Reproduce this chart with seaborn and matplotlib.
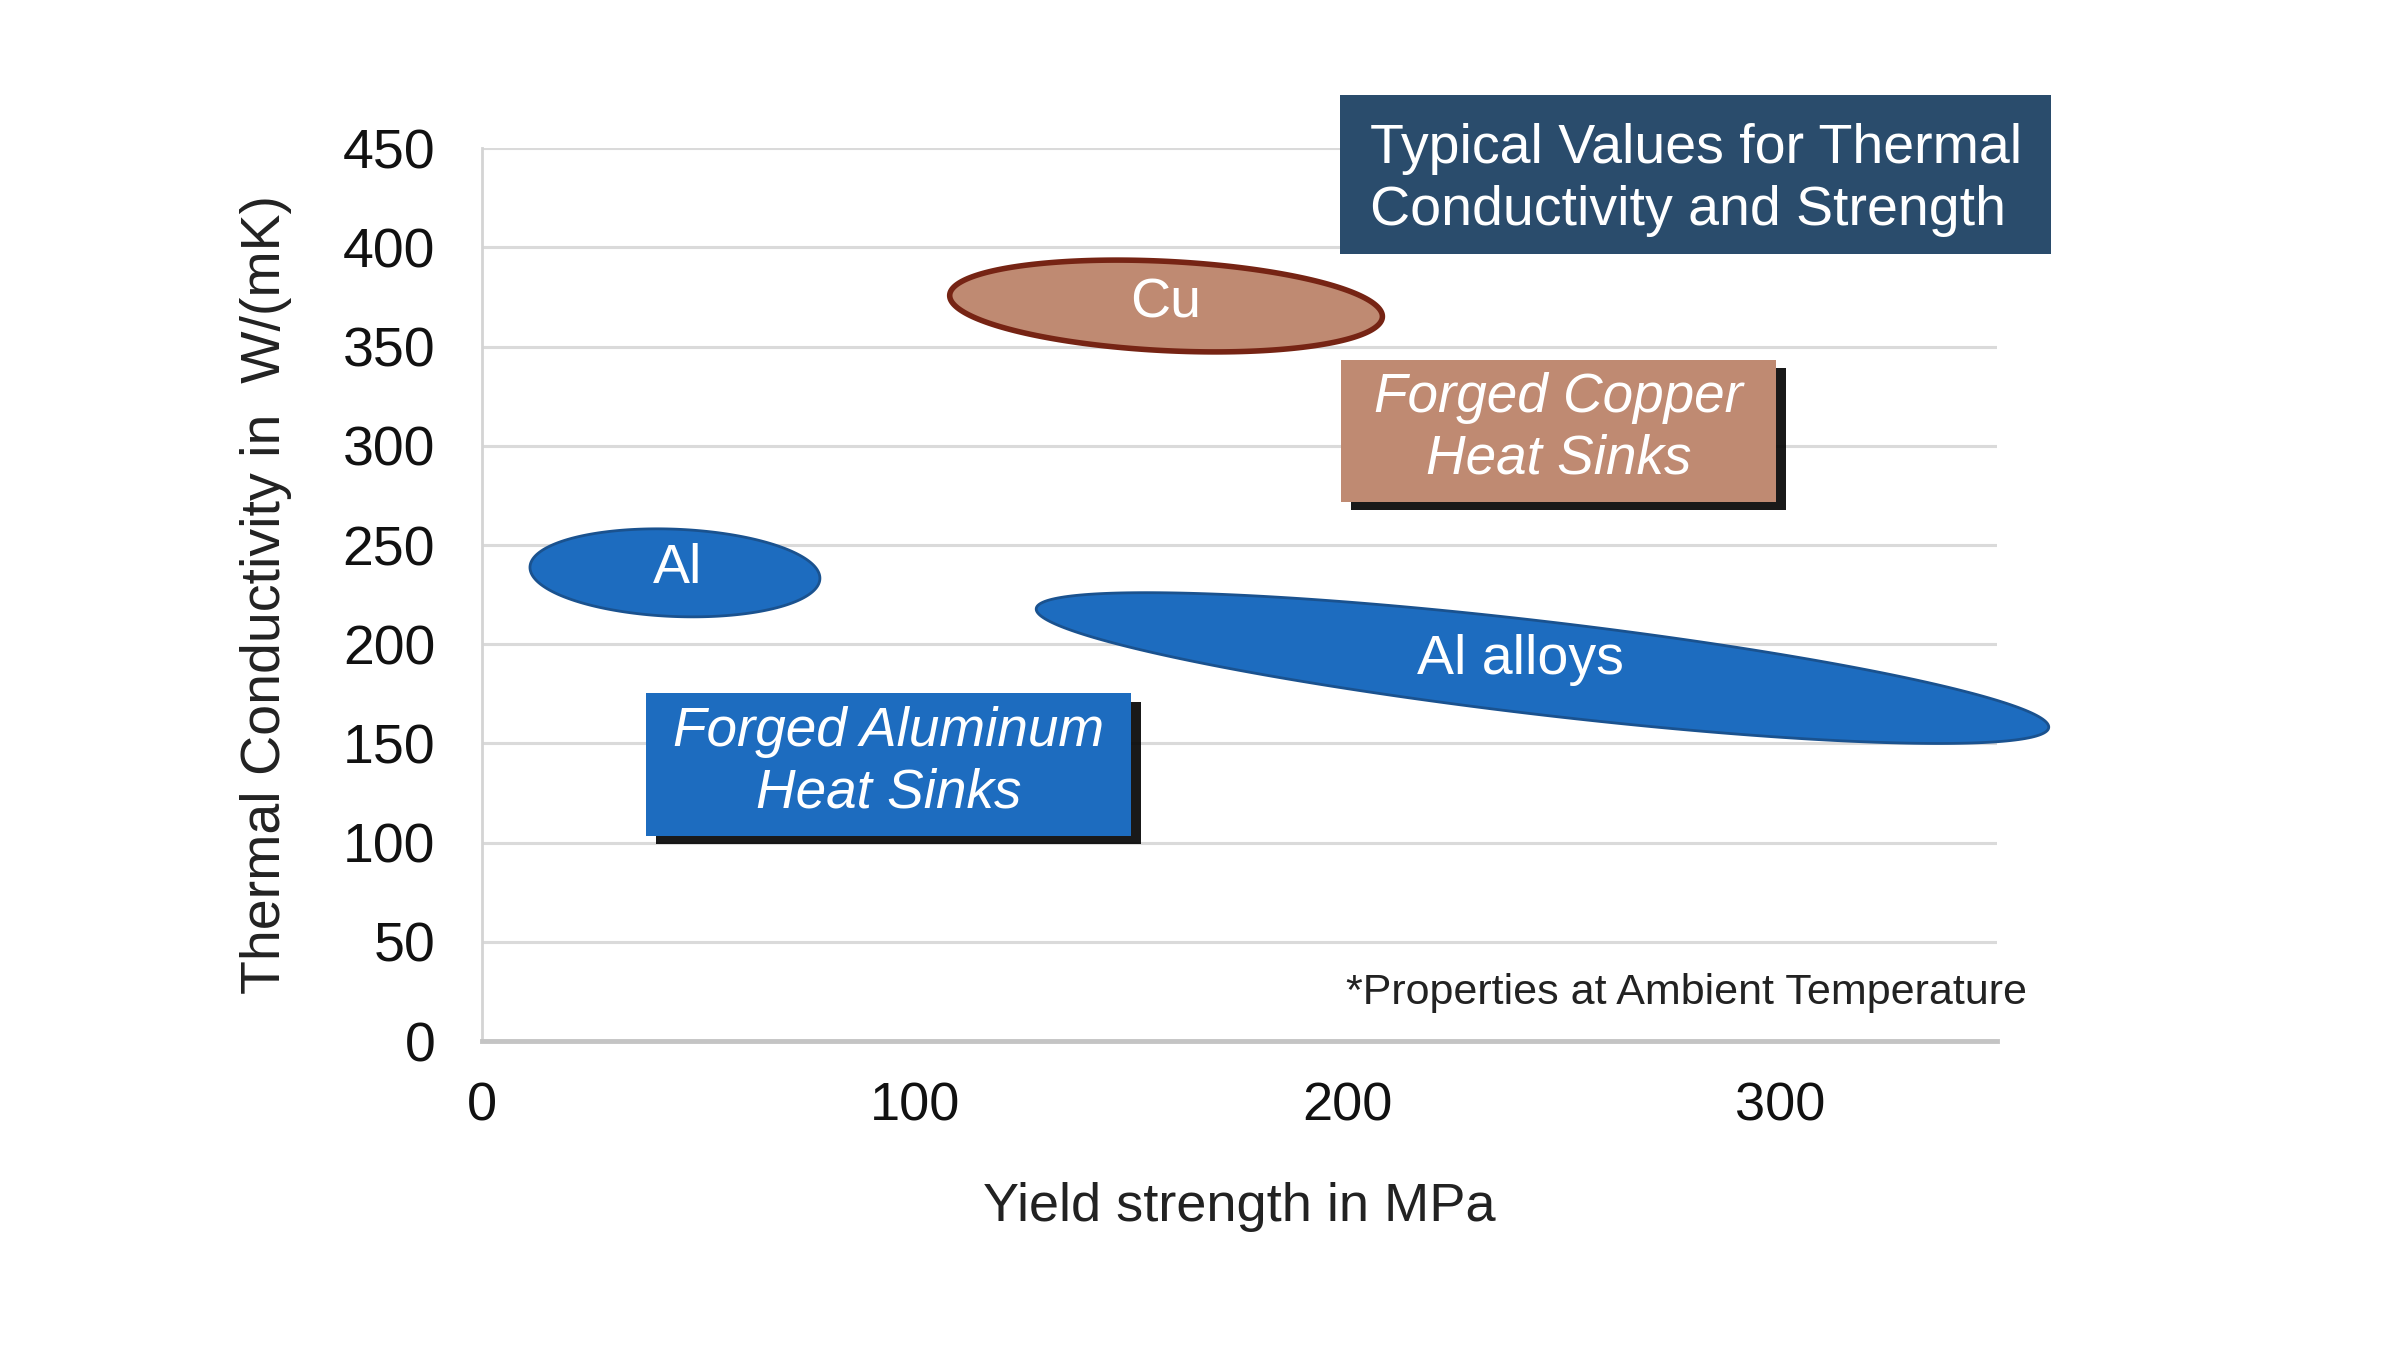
import numpy as np
import pandas as pd
import matplotlib
matplotlib.use("Agg")
import matplotlib.pyplot as plt
import matplotlib.patheffects as pe
from matplotlib.patches import Rectangle, Polygon
import seaborn as sns

# ---------------- data ----------------
materials = ["Cu", "Al", "Al alloys"]
strength_low = [108, 11, 128]          # MPa, left end of range
strength_high = [208, 78, 362]         # MPa, right end of range
conductivity_at_low = [376, 239, 218]  # W/(mK) at left end
conductivity_at_high = [365, 233, 158] # W/(mK) at right end
band_width = [45, 44, 47]              # spread of conductivity (visual thickness)
label_x = [158, 45, 240]
label_y = [372, 238, 192]

x_ticks = [0, 100, 200, 300]
y_ticks = [0, 50, 100, 150, 200, 250, 300, 350, 400, 450]

heat_sinks = ["Forged Copper\nHeat Sinks", "Forged Aluminum\nHeat Sinks"]
hs_x0 = [198.5, 37.8]
hs_x1 = [299.0, 150.0]
hs_y0 = [271.7, 103.4]
hs_y1 = [343.5, 175.2]

title_text = "Typical Values for Thermal\nConductivity and Strength"
note_text = "*Properties at Ambient Temperature"

# colours
blue = "#1d6cbf"
blue_edge = "#1a528f"
copper = "#bf8a72"
copper_edge = "#762414"
navy = "#2a4c6c"

# ---------------- style ----------------
sns.set_theme(style="white")
plt.rcParams["font.family"] = ["Liberation Sans", "DejaVu Sans"]

fig = plt.figure(figsize=(24, 13.48), dpi=100)
ax = fig.add_axes([0.201, 0.2277, 0.631, 0.6623])
ax.set_xlim(0, 350)
ax.set_ylim(0, 450)
ax.set_xticks(x_ticks)
ax.set_yticks(y_ticks)
ax.yaxis.grid(True, color="#dadada", linewidth=2.2)
ax.xaxis.grid(False)
ax.set_axisbelow(True)
sns.despine(ax=ax, top=True, right=True)
ax.spines["left"].set_color("#d4d4d4")
ax.spines["left"].set_linewidth(2)
ax.spines["bottom"].set_color("#c4c4c4")
ax.spines["bottom"].set_linewidth(3.5)
ax.tick_params(axis="both", length=0, colors="#111111")
ax.tick_params(axis="y", labelsize=40, pad=34)
ax.tick_params(axis="x", labelsize=39, pad=29)

ax.set_ylabel("Thermal Conductivity in  W/(mK)", fontsize=40, color="#222222")
ax.set_xlabel("Yield strength in MPa", fontsize=39, color="#222222")
ax.yaxis.set_label_coords(-0.126, 0.5)
ax.xaxis.set_label_coords(0.5, -0.158)

# ratio of pixel scales (x unit vs y unit) for true ellipses on screen
pos = ax.get_position()
W = pos.width * fig.get_figwidth()
H = pos.height * fig.get_figheight()
k = (W / 350) / (H / 450)

df = pd.DataFrame({
    "material": materials, "x1": strength_low, "x2": strength_high,
    "y1": conductivity_at_low, "y2": conductivity_at_high, "band": band_width,
    "lx": label_x, "ly": label_y,
})

t = np.linspace(0, 2 * np.pi, 300)
for _, r in df.iterrows():
    X1, Y1 = r.x1 * k, r.y1
    X2, Y2 = r.x2 * k, r.y2
    cx, cy = (X1 + X2) / 2, (Y1 + Y2) / 2
    a = np.hypot(X2 - X1, Y2 - Y1) / 2
    th = np.arctan2(Y2 - Y1, X2 - X1)
    b = r.band / 2
    X = cx + a * np.cos(t) * np.cos(th) - b * np.sin(t) * np.sin(th)
    Y = cy + a * np.cos(t) * np.sin(th) + b * np.sin(t) * np.cos(th)
    if r.material == "Cu":
        fc, ec, lw = copper, copper_edge, 4
    else:
        fc, ec, lw = blue, blue_edge, 2
    poly = Polygon(np.column_stack([X / k, Y]), closed=True, facecolor=fc,
                   edgecolor=ec, linewidth=lw, clip_on=False, zorder=3)
    ax.add_patch(poly)
    ax.text(r.lx, r.ly, r.material, color="white", fontsize=40,
            ha="center", va="center", zorder=4)

# heat-sink boxes with drop shadow
hs_colors = [copper, blue]
for lab, x0, x1, y0, y1, c in zip(heat_sinks, hs_x0, hs_x1, hs_y0, hs_y1, hs_colors):
    rect = Rectangle((x0, y0), x1 - x0, y1 - y0, facecolor=c, edgecolor="none",
                     zorder=5, clip_on=False,
                     path_effects=[pe.withSimplePatchShadow(offset=(7, -6),
                                                            shadow_rgbFace="black",
                                                            alpha=0.9)])
    ax.add_patch(rect)
    ax.text((x0 + x1) / 2, (y0 + y1) / 2 + 1, lab, color="white", fontsize=39.5,
            style="italic", ha="center", va="center", linespacing=1.22, zorder=6)

# title box
tx0, tx1, ty0, ty1 = 198.3, 362.5, 396.7, 477.0
ax.add_patch(Rectangle((tx0, ty0), tx1 - tx0, ty1 - ty0, facecolor=navy,
                       edgecolor="none", zorder=5, clip_on=False))
ax.text((tx0 + tx1) / 2, (ty0 + ty1) / 2 - 3, title_text, color="white", fontsize=40,
        ha="center", va="center", multialignment="left", linespacing=1.25,
        zorder=6, clip_on=False)

ax.text(357, 24, note_text, fontsize=31, color="#222222", ha="right",
        va="center", zorder=4, clip_on=False)

fig.savefig("out.png", dpi=100, facecolor="white")
